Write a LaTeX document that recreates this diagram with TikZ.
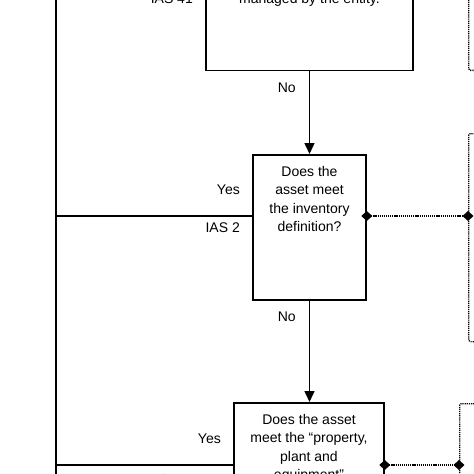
\documentclass[tikz,border=0pt]{standalone}
\usepackage{fontspec}
\setmainfont{Liberation Sans}
\usetikzlibrary{arrows.meta,positioning}

\tikzset{
    box/.style={draw,line width=1.5pt,inner sep=0pt},
    dotbox/.style={draw,line width=1.3pt,dash pattern=on 1.2pt off 0.9pt,rounded corners=1.5pt,inner sep=0pt},
    qtext/.style={align=center,inner sep=0pt,font=\fontsize{14}{18.5}\selectfont},
    lbl/.style={inner sep=0pt,font=\fontsize{14}{17}\selectfont},
    link/.style={line width=1.5pt},
    dotlink/.style={line width=1.4pt,dash pattern=on 1.2pt off 0.9pt,
        {Diamond[length=11pt,width=10pt]}-{Diamond[length=11pt,width=10pt]},
        shorten <=-5.5pt,shorten >=-5.5pt}
}

\begin{document}
\begin{tikzpicture}[x=1pt,y=-1pt,>={Triangle[length=11pt,width=10pt]}]
    \useasboundingbox (0,0) rectangle (474,474);

    % question boxes
    \node[box,minimum width=207pt,minimum height=130pt,anchor=south] (b1) at (309.5,71) {};
    \node[box,minimum width=113pt,minimum height=145pt,anchor=north] (b2) at (309.5,154) {};
    \node[box,minimum width=150pt,minimum height=120pt,anchor=north] (b3) at (309,402) {};

    \node[qtext,anchor=base] (t1) at (309.5,3) {managed by the entity.};
    \node[qtext,below=12pt of b2.north] (t2) {Does the\\asset meet\\the inventory\\definition?};
    \node[qtext,below=12pt of b3.north] (t3) {Does the asset\\meet the “property,\\plant and\\equipment”};

    % boxes on the right
    \node[dotbox,minimum width=100pt,minimum height=160pt,anchor=south west] (r1) at (468,71) {};
    \node[dotbox,minimum width=100pt,minimum height=208pt,anchor=north west] (r2) at (468,133) {};
    \node[dotbox,minimum width=100pt,minimum height=100pt,anchor=north west] (r3) at (459,403) {};

    % yes branches
    \coordinate (lt) at (56,-10);
    \coordinate (lb) at (56,490);
    \coordinate (j2) at (56,216);
    \coordinate (j3) at (56,465);
    \draw[link] (lt) -- (lb);
    \draw[link] (j2) -- (j2 -| b2.west);
    \draw[link] (j3) -- (j3 -| b3.west);

    \node[lbl,anchor=base east] (ias41) at (193,3) {IAS 41};
    \node[lbl,anchor=east] (yes2) at (240,190) {Yes};
    \node[lbl,anchor=east] (ias2) at (240,228) {IAS 2};
    \node[lbl,anchor=east] (yes3) at (221,439) {Yes};
    \node[lbl,anchor=east] (ias16) at (222,479) {IAS 16/GPAP 17};

    % no branches
    \draw[link,->] (b1.south) -- node[lbl,pos=0.2,left=13pt] {No} (b2.north);
    \draw[link,->] (b2.south) -- node[lbl,pos=0.16,left=13pt] {No} (b3.north -| b2.south);

    % links to the right
    \draw[dotlink] (j2 -| b2.east) -- (j2 -| r2.west);
    \draw[dotlink] (j3 -| b3.east) -- (j3 -| r3.west);
\end{tikzpicture}
\end{document}
